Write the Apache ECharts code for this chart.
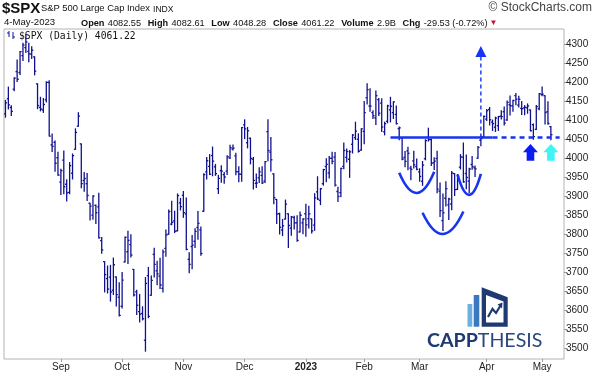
<!DOCTYPE html>
<html><head><meta charset="utf-8">
<script src="https://cdn.jsdelivr.net/npm/echarts@6/dist/echarts.min.js"></script>
<style>html,body{margin:0;padding:0;background:#fff}#c{width:598px;height:374px}</style>
</head><body><div id="c"></div>
<script>
// ---------------- DATA ----------------
const dates = [
'2022-08-05','2022-08-08','2022-08-09','2022-08-10','2022-08-11','2022-08-12','2022-08-15','2022-08-16','2022-08-17','2022-08-18','2022-08-19','2022-08-22','2022-08-23','2022-08-24','2022-08-25','2022-08-26','2022-08-29','2022-08-30','2022-08-31',
'2022-09-01','2022-09-02','2022-09-06','2022-09-07','2022-09-08','2022-09-09','2022-09-12','2022-09-13','2022-09-14','2022-09-15','2022-09-16','2022-09-19','2022-09-20','2022-09-21','2022-09-22','2022-09-23','2022-09-26','2022-09-27','2022-09-28','2022-09-29','2022-09-30',
'2022-10-03','2022-10-04','2022-10-05','2022-10-06','2022-10-07','2022-10-10','2022-10-11','2022-10-12','2022-10-13','2022-10-14','2022-10-17','2022-10-18','2022-10-19','2022-10-20','2022-10-21','2022-10-24','2022-10-25','2022-10-26','2022-10-27','2022-10-28','2022-10-31',
'2022-11-01','2022-11-02','2022-11-03','2022-11-04','2022-11-07','2022-11-08','2022-11-09','2022-11-10','2022-11-11','2022-11-14','2022-11-15','2022-11-16','2022-11-17','2022-11-18','2022-11-21','2022-11-22','2022-11-23','2022-11-25','2022-11-28','2022-11-29','2022-11-30',
'2022-12-01','2022-12-02','2022-12-05','2022-12-06','2022-12-07','2022-12-08','2022-12-09','2022-12-12','2022-12-13','2022-12-14','2022-12-15','2022-12-16','2022-12-19','2022-12-20','2022-12-21','2022-12-22','2022-12-23','2022-12-27','2022-12-28','2022-12-29','2022-12-30',
'2023-01-03','2023-01-04','2023-01-05','2023-01-06','2023-01-09','2023-01-10','2023-01-11','2023-01-12','2023-01-13','2023-01-17','2023-01-18','2023-01-19','2023-01-20','2023-01-23','2023-01-24','2023-01-25','2023-01-26','2023-01-27','2023-01-30','2023-01-31',
'2023-02-01','2023-02-02','2023-02-03','2023-02-06','2023-02-07','2023-02-08','2023-02-09','2023-02-10','2023-02-13','2023-02-14','2023-02-15','2023-02-16','2023-02-17','2023-02-21','2023-02-22','2023-02-23','2023-02-24','2023-02-27','2023-02-28',
'2023-03-01','2023-03-02','2023-03-03','2023-03-06','2023-03-07','2023-03-08','2023-03-09','2023-03-10','2023-03-13','2023-03-14','2023-03-15','2023-03-16','2023-03-17','2023-03-20','2023-03-21','2023-03-22','2023-03-23','2023-03-24','2023-03-27','2023-03-28','2023-03-29','2023-03-30','2023-03-31',
'2023-04-03','2023-04-04','2023-04-05','2023-04-06','2023-04-10','2023-04-11','2023-04-12','2023-04-13','2023-04-14','2023-04-17','2023-04-18','2023-04-19','2023-04-20','2023-04-21','2023-04-24','2023-04-25','2023-04-26','2023-04-27','2023-04-28',
'2023-05-01','2023-05-02','2023-05-03','2023-05-04'
];
const opens = [
4115.87,4155.93,4133.11,4181.02,4227.40,4225.02,4269.37,4290.46,4280.40,4273.13,4266.31,4195.08,4133.09,4126.55,4153.26,4198.74,4034.58,4041.25,4000.67,
3936.73,3994.66,3930.89,3909.43,3959.94,4022.94,4083.67,4037.12,3940.73,3932.41,3880.95,3849.91,3875.23,3871.40,3782.36,3727.14,3682.72,3686.44,3651.94,3687.01,3633.48,
3609.78,3726.46,3753.25,3771.97,3706.74,3647.51,3595.86,3590.83,3520.37,3690.41,3638.65,3746.26,3703.11,3689.05,3657.10,3762.01,3799.44,3825.97,3834.69,3808.26,3881.85,
3901.79,3852.90,3733.25,3766.98,3780.71,3817.02,3810.94,3859.89,3963.72,3977.97,4006.41,3976.82,3919.26,3966.39,3956.23,3965.51,4000.30,4023.34,4005.36,3964.19,3957.18,
4087.14,4040.17,4052.02,3996.63,3933.28,3947.79,3954.17,3939.29,4069.38,4015.54,3958.37,3890.91,3853.79,3810.47,3839.49,3853.26,3815.11,3843.34,3829.56,3805.45,3829.06,
3853.29,3840.36,3839.74,3823.37,3910.82,3888.57,3932.35,3977.57,3960.60,3999.28,4002.25,3911.84,3909.04,3978.14,4001.74,3996.66,4036.08,4053.72,4049.27,4020.85,
4070.07,4158.68,4136.69,4119.57,4105.35,4153.47,4144.25,4068.92,4096.62,4126.70,4119.50,4114.75,4077.39,4052.35,4001.83,4018.60,3973.24,3992.36,3977.19,
3963.34,3938.68,3998.02,4055.15,4048.26,3987.55,3998.66,3912.77,3835.12,3894.01,3876.74,3878.93,3958.69,3917.47,3975.89,4002.04,3959.21,3939.21,3982.93,3974.13,3999.53,4046.74,4056.18,
4102.20,4128.03,4094.50,4081.15,4085.20,4110.29,4121.72,4100.04,4140.11,4137.17,4164.26,4139.33,4130.48,4132.14,4132.07,4126.43,4087.78,4075.29,4129.63,
4166.79,4164.10,4122.25,4082.55
];
const highs = [
4151.58,4186.62,4137.30,4211.03,4257.91,4280.47,4301.79,4325.28,4302.18,4292.53,4266.31,4195.08,4159.77,4156.56,4200.54,4203.04,4062.99,4044.98,4015.37,
3970.23,4018.43,3942.55,3987.89,4010.50,4076.81,4119.28,4037.12,3961.94,3959.14,3880.95,3900.45,3876.01,3907.07,3790.83,3727.14,3715.67,3717.53,3736.74,3687.01,3671.44,
3698.35,3791.92,3806.91,3797.93,3706.74,3652.17,3640.66,3608.34,3685.41,3712.00,3689.73,3762.79,3728.58,3736.00,3757.89,3810.74,3862.85,3886.15,3859.95,3905.42,3893.73,
3911.79,3894.44,3750.59,3796.34,3813.95,3859.40,3818.20,3958.33,4001.48,4008.97,4028.84,3983.09,3954.33,3979.89,3962.00,4005.88,4033.78,4034.02,4012.27,3976.77,4080.11,
4100.51,4080.48,4052.45,4001.51,3957.57,3974.19,3977.02,3990.71,4100.96,4053.76,3958.37,3890.91,3854.86,3838.24,3889.28,3853.26,3845.80,3846.65,3848.33,3858.19,3839.85,
3878.46,3873.16,3839.74,3906.19,3950.57,3919.83,3970.07,3997.76,4003.95,4015.39,4014.16,3922.94,3972.96,4039.31,4023.92,4019.55,4061.57,4094.21,4063.85,4077.16,
4148.95,4195.44,4182.36,4124.63,4176.54,4156.85,4156.23,4094.36,4138.90,4159.77,4148.11,4136.54,4081.51,4052.35,4017.37,4028.30,3978.25,4018.05,3997.50,
3971.73,3990.84,4048.29,4078.49,4050.00,4000.41,4017.81,3934.05,3905.05,3937.29,3894.26,3964.46,3958.91,3956.62,4009.08,4039.49,4007.66,3972.74,4003.83,3979.20,4030.59,4057.85,4110.75,
4127.66,4133.13,4099.69,4107.32,4109.50,4124.26,4134.37,4150.26,4163.19,4151.72,4169.48,4162.57,4148.57,4138.02,4142.41,4126.43,4089.67,4138.24,4170.06,
4186.92,4164.10,4148.30,4082.61
];
const lows = [
4107.31,4128.97,4112.09,4177.26,4201.41,4219.78,4256.90,4277.77,4253.08,4261.98,4218.70,4129.86,4124.03,4119.97,4147.59,4057.66,4017.42,3965.21,3954.53,
3903.65,3906.21,3886.75,3906.03,3944.81,4022.94,4083.67,3921.73,3912.21,3888.28,3837.08,3838.50,3827.54,3789.49,3749.45,3647.47,3644.76,3623.29,3640.61,3610.40,3584.13,
3604.93,3726.46,3722.66,3739.22,3636.87,3588.10,3568.45,3573.86,3491.58,3579.68,3638.65,3686.53,3666.51,3656.44,3647.42,3741.65,3799.44,3824.07,3803.79,3808.26,3863.18,
3843.80,3758.68,3698.15,3708.84,3764.70,3786.28,3744.22,3859.89,3944.82,3956.40,3953.17,3954.34,3906.54,3935.98,3933.34,3956.88,3998.66,4020.76,3955.77,3937.65,3938.58,
4050.87,4026.63,3984.49,3918.39,3922.68,3935.83,3933.04,3935.30,3993.03,3965.65,3879.45,3827.91,3800.04,3795.62,3839.49,3764.49,3797.01,3813.22,3780.78,3805.45,3800.34,
3794.33,3815.77,3802.42,3809.56,3890.42,3877.29,3928.54,3937.56,3947.67,3984.57,3926.59,3885.54,3897.86,3971.64,3989.79,3949.06,4013.29,4048.70,4015.55,4020.44,
4037.20,4141.88,4123.36,4103.98,4088.39,4111.67,4069.67,4060.79,4092.67,4095.01,4103.98,4089.49,4047.95,3995.19,3976.90,3969.19,3943.08,3973.55,3968.98,
3939.05,3928.16,3995.17,4044.61,3980.31,3969.76,3908.70,3846.32,3808.86,3873.63,3838.24,3864.11,3901.27,3916.89,3971.19,3936.17,3919.05,3909.16,3970.47,3951.53,3999.53,4032.10,4056.18,
4098.79,4086.87,4072.56,4069.84,4072.55,4102.61,4086.94,4099.40,4113.20,4123.18,4140.36,4134.49,4114.57,4113.86,4117.77,4071.38,4049.35,4075.29,4127.18,
4164.12,4089.72,4088.86,4048.28
];
const closes = [
4145.19,4140.06,4122.47,4210.24,4207.27,4280.15,4297.14,4305.20,4274.04,4283.74,4228.48,4137.99,4128.73,4140.77,4199.12,4057.66,4030.61,3986.16,3955.00,
3966.85,3924.26,3908.19,3979.87,4006.18,4067.36,4110.41,3932.69,3946.01,3901.35,3873.33,3899.89,3855.93,3789.93,3757.99,3693.23,3655.04,3647.29,3719.04,3640.47,3585.62,
3678.43,3790.93,3783.28,3744.52,3639.66,3612.39,3588.84,3577.03,3669.91,3583.07,3677.95,3719.98,3695.16,3665.78,3752.75,3797.34,3859.11,3830.60,3807.30,3901.06,3871.98,
3856.10,3759.69,3719.89,3770.55,3806.80,3828.11,3748.57,3956.37,3992.93,3957.25,3991.73,3958.79,3946.56,3965.34,3949.94,4003.58,4027.26,4026.12,3963.94,3957.63,4080.11,
4076.57,4071.70,3998.84,3941.26,3933.92,3963.51,3934.38,3990.56,4019.65,3995.32,3895.75,3852.36,3817.66,3821.62,3878.44,3822.39,3844.82,3829.25,3783.22,3849.28,3839.50,
3824.14,3852.97,3808.10,3895.08,3892.09,3919.25,3969.61,3983.17,3999.09,3990.97,3928.86,3898.85,3972.61,4019.81,4016.95,4016.22,4060.43,4070.56,4017.77,4076.60,
4119.21,4179.76,4136.48,4111.08,4164.00,4117.86,4081.50,4090.46,4137.29,4136.13,4147.60,4090.41,4079.09,3997.34,3991.05,4012.32,3970.04,3982.24,3970.15,
3951.39,3981.35,4045.64,4048.42,3986.37,3992.01,3918.32,3861.59,3855.76,3919.29,3891.93,3960.28,3916.64,3951.57,4002.87,3936.97,3948.72,3970.99,3977.53,3971.27,4027.81,4050.83,4109.31,
4124.51,4100.60,4090.38,4105.02,4109.11,4108.94,4091.95,4146.22,4137.64,4151.32,4154.87,4154.52,4129.79,4133.52,4137.04,4071.63,4055.99,4135.35,4169.48,
4167.87,4119.58,4090.75,4061.22
];
// x-axis month ticks
const monthTickDates = ['2022-09-01','2022-10-03','2022-11-01','2022-12-01','2023-01-03','2023-02-01','2023-03-01','2023-04-03','2023-05-01'];
const monthTickLabels = ['Sep','Oct','Nov','Dec','2023','Feb','Mar','Apr','May'];
// y-axis ticks
const yTicks = [3500,3550,3600,3650,3700,3750,3800,3850,3900,3950,4000,4050,4100,4150,4200,4250,4300];
// annotations (data units: category index, price)
const necklineLevel = 4054;
const necklineSpan = [132.3, 166.8, 189.5];   // solid start, solid end / dashed start, dashed end
const targetArrow = {x: 162.6, from: 4054, to: 4295};
const supportArrows = [{x: 180.4, top: 4037, base: 3993, color: '#0a1cf5'}, {x: 187.4, top: 4037, base: 3993, color: '#3ef4f4'}];
const arcs = [
  [[135.3, 3961], [140.8, 3908], [146.6, 3964]],
  [[142.5, 3856], [150.0, 3800], [156.9, 3859]],
  [[154.6, 3956], [158.9, 3903], [163.4, 3958]]
];

// ---------------- CHART ----------------
const padCount = 4;
const categories = dates.concat(Array(padCount).fill(''));
const ohlc = dates.map((d, i) => [i, opens[i], highs[i], lows[i], closes[i]]);
const tickIdx = monthTickDates.map(d => dates.indexOf(d));
const BAR = '#11118f';

const chart = echarts.init(document.getElementById('c'), null, {renderer: 'canvas'});
const FONT = 'Liberation Sans, Arial, sans-serif';
chart.setOption({
  animation: false,
  backgroundColor: '#fff',
  grid: {left: 4, right: 34, top: 29, bottom: 15, show: true, borderColor: '#b4b4b4', borderWidth: 1, backgroundColor: 'transparent'},
  xAxis: {
    type: 'category', data: categories, boundaryGap: true,
    axisLine: {show: false},
    axisTick: {show: true, length: 3, alignWithLabel: true, lineStyle: {color: '#999'},
      interval: (i) => tickIdx.indexOf(i) >= 0},
    axisLabel: {
      interval: (i) => tickIdx.indexOf(i) >= 0,
      formatter: (v, i) => { const k = tickIdx.indexOf(i); if (k < 0) return ''; const t = monthTickLabels[k]; return /^\d+$/.test(t) ? '{b|' + t + '}' : t; },
      fontSize: 10, color: '#222', fontFamily: FONT, margin: 3,
      rich: {b: {fontWeight: 'bold', fontSize: 10, color: '#222', fontFamily: FONT}}
    },
    splitLine: {show: false}
  },
  yAxis: {
    type: 'value', position: 'right', min: 3471, max: 4339.5, scale: true,
    axisLine: {show: false},
    axisTick: {show: true, length: 3, customValues: yTicks, lineStyle: {color: '#999'}},
    axisLabel: {customValues: yTicks, formatter: v => String(v), fontSize: 10, color: '#222', fontFamily: FONT, margin: 2},
    splitLine: {show: false}
  },
  series: [{
    type: 'custom', name: '$SPX',
    data: ohlc,
    encode: {x: 0, y: [1, 2, 3, 4]},
    clip: true,
    renderItem: (params, api) => {
      const i = api.value(0);
      const o = api.coord([i, api.value(1)]);
      const h = api.coord([i, api.value(2)]);
      const l = api.coord([i, api.value(3)]);
      const c = api.coord([i, api.value(4)]);
      const x = o[0];
      const st = {stroke: BAR, lineWidth: 1.3};
      return {type: 'group', children: [
        {type: 'line', shape: {x1: x, y1: h[1] - 0.5, x2: x, y2: l[1] + 0.5}, style: st},
        {type: 'line', shape: {x1: x - 1.6, y1: o[1], x2: x, y2: o[1]}, style: st},
        {type: 'line', shape: {x1: x, y1: c[1], x2: x + 1.6, y2: c[1]}, style: st}
      ]};
    }
  }]
});

const P = (x, y) => chart.convertToPixel({xAxisIndex: 0, yAxisIndex: 0}, [x, y]);
const ANN = '#1634f2';
const g = [];
// header
g.push({type: 'text', left: 2, top: 1, style: {text: '$SPX', font: 'bold 15px ' + FONT, fill: '#111'}});
g.push({type: 'text', left: 41, top: 4, style: {text: 'S&P 500 Large Cap Index', font: '9.4px ' + FONT, fill: '#111'}});
g.push({type: 'text', left: 153, top: 5, style: {text: 'INDX', font: '8.6px ' + FONT, fill: '#111'}});
g.push({type: 'text', right: 6, top: 2, style: {text: '\u00a9 StockCharts.com', font: '12px ' + FONT, fill: '#444'}});
g.push({type: 'text', left: 4, top: 17, style: {
  text: '{n|4-May-2023}',
  rich: {n: {font: '9.6px ' + FONT, fill: '#111'}}
}});
g.push({type: 'text', left: 81, top: 17, style: {
  text: '{b|Open} {n|4082.55}  {b|High} {n|4082.61}  {b|Low} {n|4048.28}  {b|Close} {n|4061.22}  {b|Volume} {n|2.9B}  {b|Chg} {n|-29.53 (-0.72%)}{r|\u25BC}',
  rich: {b: {font: 'bold 9.2px ' + FONT, fill: '#111'}, n: {font: '9.2px ' + FONT, fill: '#111'}, r: {font: '8px ' + FONT, fill: '#c8102e', padding: [0, 0, 0, 2]}}
}});
// legend
g.push({type: 'text', left: 19, top: 31, style: {text: '$SPX (Daily) 4061.22', font: '9.7px DejaVu Sans Mono, monospace', fill: '#111'}});
g.push({type: 'line', shape: {x1: 9, y1: 31, x2: 9, y2: 37}, style: {stroke: BAR, lineWidth: 1}});
g.push({type: 'line', shape: {x1: 13, y1: 32, x2: 13, y2: 39}, style: {stroke: BAR, lineWidth: 1}});
g.push({type: 'line', shape: {x1: 7, y1: 33, x2: 9, y2: 33}, style: {stroke: BAR, lineWidth: 1}});
g.push({type: 'line', shape: {x1: 13, y1: 37, x2: 15, y2: 37}, style: {stroke: BAR, lineWidth: 1}});

// neckline
const n0 = P(necklineSpan[0], necklineLevel), n1 = P(necklineSpan[1], necklineLevel), n2 = P(necklineSpan[2], necklineLevel);
g.push({type: 'line', z: 20, shape: {x1: n0[0], y1: n0[1], x2: n1[0], y2: n1[1]}, style: {stroke: ANN, lineWidth: 2.6}});
g.push({type: 'line', z: 20, shape: {x1: n1[0], y1: n1[1], x2: n2[0], y2: n2[1]}, style: {stroke: ANN, lineWidth: 2.6, lineDash: [5, 4]}});
// target arrow
const t0 = P(targetArrow.x, targetArrow.from), t1 = P(targetArrow.x, targetArrow.to);
g.push({type: 'line', z: 20, shape: {x1: t0[0], y1: t0[1], x2: t1[0], y2: t1[1] + 9}, style: {stroke: ANN, lineWidth: 1.4, lineDash: [4, 3]}});
g.push({type: 'polygon', z: 20, shape: {points: [[t1[0], t1[1]], [t1[0] + 5.5, t1[1] + 11], [t1[0] - 5.5, t1[1] + 11]]}, style: {fill: ANN}});
// support arrows
supportArrows.forEach(a => {
  const top = P(a.x, a.top), base = P(a.x, a.base);
  const cx = top[0], ty = top[1], by = base[1], hy = ty + (by - ty) * 0.5;
  g.push({type: 'polygon', z: 20, shape: {points: [[cx, ty], [cx + 7.5, hy], [cx + 3.8, hy], [cx + 3.8, by], [cx - 3.8, by], [cx - 3.8, hy], [cx - 7.5, hy]]}, style: {fill: a.color}});
});
// arcs
arcs.forEach(a => {
  const p0 = P(a[0][0], a[0][1]), pb = P(a[1][0], a[1][1]), p2 = P(a[2][0], a[2][1]);
  const c1 = [2 * pb[0] - (p0[0] + p2[0]) / 2, 2 * pb[1] - (p0[1] + p2[1]) / 2];
  g.push({type: 'bezierCurve', z: 20, shape: {x1: p0[0], y1: p0[1], x2: p2[0], y2: p2[1], cpx1: c1[0], cpy1: c1[1]}, style: {stroke: ANN, lineWidth: 2.6, fill: null}});
});
// logo watermark
const NAVY = '#1f3a73';
g.push({type: 'rect', shape: {x: 467.5, y: 304, width: 4.8, height: 22.7}, style: {fill: '#6cb0e0'}});
g.push({type: 'rect', shape: {x: 473.7, y: 295, width: 5.6, height: 31.7}, style: {fill: '#3a78c0'}});
g.push({type: 'polygon', shape: {points: [[481.7, 287.3], [507.7, 297.3], [507.7, 326.7], [481.7, 326.7]]}, style: {fill: NAVY}});
g.push({type: 'polygon', shape: {points: [[486, 295], [503.5, 301.5], [503.5, 322.5], [486, 322.5]]}, style: {fill: '#fff'}});
g.push({type: 'polyline', shape: {points: [[488, 317], [492.5, 309], [496, 313], [500.5, 305.5]]}, style: {stroke: NAVY, lineWidth: 2.2, fill: null}});
g.push({type: 'polygon', shape: {points: [[502.5, 302.5], [502, 308.5], [497.5, 304.5]]}, style: {fill: NAVY}});
g.push({type: 'text', left: 427, top: 331, style: {
  text: '{b|CAPP}{n|THESIS}',
  rich: {b: {font: 'bold 19.6px Lato', fill: NAVY}, n: {font: '19.6px Lato', fill: '#27477f'}}
}});
chart.setOption({graphic: {elements: g}});
</script></body></html>
